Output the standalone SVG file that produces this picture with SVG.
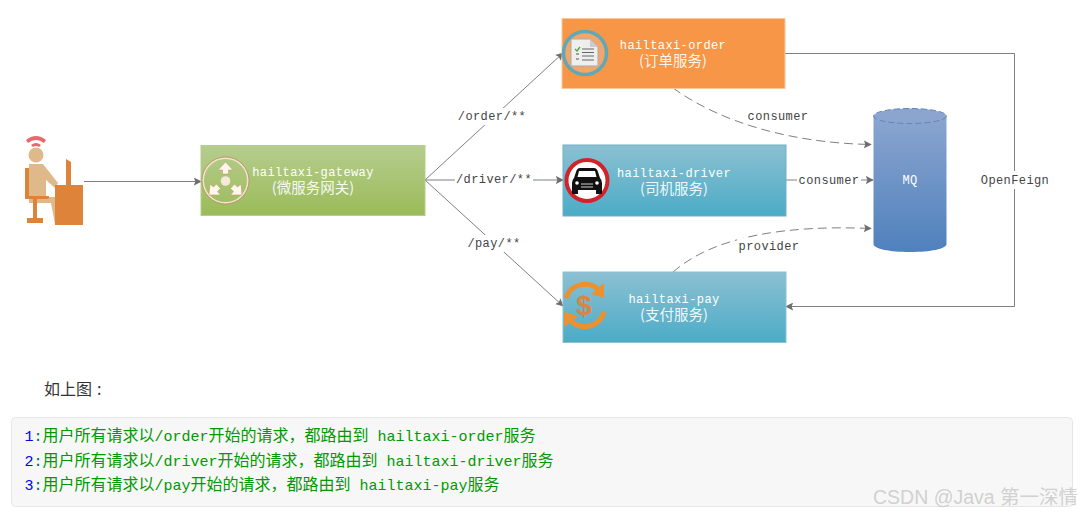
<svg xmlns="http://www.w3.org/2000/svg" width="1082" height="515" viewBox="0 0 1082 515">
<style>
.w{fill:#fff;text-anchor:middle;font-family:"Liberation Mono","Noto Sans CJK SC",monospace;font-size:12px;letter-spacing:.4px}
.w2{fill:#fff;fill-opacity:.92;text-anchor:middle;font-family:"Noto Sans CJK SC",sans-serif;font-size:14.5px}
.l{fill:#444;text-anchor:middle;font-family:"Liberation Mono","Noto Sans CJK SC",monospace;font-size:12px;letter-spacing:.4px}
.c{fill:none;stroke:#808080;stroke-width:1}
.d{stroke-dasharray:9 5}
.code{font-family:"Liberation Mono","Noto Sans CJK SC",monospace;font-size:15px;fill:#090}
.z{font-family:"Noto Sans CJK SC",sans-serif;font-size:16px}
.num{fill:#00f}
.col{fill:#066}
.ic{fill:#ec9130}
.p{fill:#e0b98a}
.o{fill:#dd843a}
.r{fill:#e8696b}
.ga{fill:#fff6ec;stroke:#c89a6c;stroke-width:.6}
</style>
<defs>
<marker id="a" viewBox="0 0 10 10" refX="9" refY="5" markerWidth="8" markerHeight="8" markerUnits="userSpaceOnUse" orient="auto"><path d="M0 0L10 5L0 10L2 5Z" fill="#6e6e6e"/></marker>
<linearGradient id="gg" x1="0" y1="0" x2="0" y2="1"><stop offset="0" stop-color="#b5cd8e"/><stop offset="1" stop-color="#9bbb59"/></linearGradient>
<linearGradient id="gb" x1="0" y1="0" x2="0" y2="1"><stop offset="0" stop-color="#8cc0d2"/><stop offset="1" stop-color="#4bacc6"/></linearGradient>
<linearGradient id="gm" x1="0" y1="0" x2="0" y2="1"><stop offset="0" stop-color="#8ba5cf"/><stop offset="1" stop-color="#4f81bd"/></linearGradient>
</defs>
<rect width="1082" height="515" fill="#fff"/>
<g id="connectors">
<path class="c" d="M84 181.500H201" marker-end="url(#a)"/>
<path class="c" d="M425 180L563 53" marker-end="url(#a)"/>
<path class="c" d="M425 180H563" marker-end="url(#a)"/>
<path class="c" d="M425 180L563 306" marker-end="url(#a)"/>
<path class="c" d="M785 53.500H1014.500V306.500H786" marker-end="url(#a)"/>
<path class="c d" d="M673 88C720 122 790 143 871 144.500" marker-end="url(#a)"/>
<path class="c" d="M786 180H873" marker-end="url(#a)"/>
<path class="c d" d="M673 272C715 235 790 225 871 228.500" marker-end="url(#a)"/>
</g>
<g id="edge-labels">
<rect x="456" y="108" width="72" height="17" fill="#fff"/><text class="l" x="492" y="120">/order/**</text>
<rect x="455" y="171" width="78" height="17" fill="#fff"/><text class="l" x="494" y="183">/driver/**</text>
<rect x="465" y="235" width="58" height="17" fill="#fff"/><text class="l" x="494" y="247">/pay/**</text>
<rect x="746" y="108" width="64" height="16" fill="#fff"/><text class="l" x="778" y="120">consumer</text>
<rect x="797" y="172" width="64" height="16" fill="#fff"/><text class="l" x="829" y="184">consumer</text>
<rect x="737" y="238" width="64" height="16" fill="#fff"/><text class="l" x="769" y="250">provider</text>
<rect x="979" y="171" width="72" height="18" fill="#fff"/><text class="l" x="1015" y="184">OpenFeign</text>
</g>
<g id="user">
<path class="r" d="M26 140Q36 132 46 140L44 143Q36 137 28 143Z"/>
<path class="r" d="M31 145Q36 141 41 145L39 147Q36 145 33 147Z"/>
<circle class="p" cx="36" cy="155" r="7.500"/>
<path class="p" d="M29 164H43L58 183L55 188L46 180V197H59V224H55L51 203H29Z"/>
<path class="o" d="M25 168H29V196H49V198Q49 199 47 199H25Z"/>
<path class="o" d="M33 199H37V218H43V223H27V218H33Z"/>
<path class="o" d="M66 159L71 162V187H66Z"/>
<rect class="o" x="55" y="185" width="28" height="40"/>
</g>
<g id="gateway">
<rect x="201" y="145.500" width="224" height="70" fill="url(#gg)" stroke="#b5cd8e"/>
<circle cx="225.500" cy="180.500" r="22.500" fill="none" stroke="#f3e2cf" stroke-width="2"/>
<circle cx="225.500" cy="180.500" r="23.500" fill="none" stroke="#b07f4e" stroke-width=".7"/>
<circle cx="225.500" cy="181" r="4.800" fill="#f7e8d8"/>
<path class="ga" d="M225.500 162L233 170H228.500V174H222.500V170H218Z"/>
<path class="ga" d="M209 195L210 184L213.500 187L216.500 184L220.500 188.500L217.500 191.500L220.500 195Z"/>
<path class="ga" d="M242 195L241 184L237.500 187L234.500 184L230.500 188.500L233.500 191.500L230.500 195Z"/>
<text class="w" x="313" y="176">hailtaxi-gateway</text>
<text class="w2" x="313" y="193">(微服务网关)</text>
</g>
<g id="order">
<rect x="562" y="18.500" width="223" height="70" fill="#f79646" stroke="#f9c79d"/>
<circle cx="585" cy="53" r="21.500" fill="#f3a66a" stroke="#60a8b8" stroke-width="3.500"/>
<path d="M571 39H590L598 47V66H571Z" fill="#eee" stroke="#aaa"/>
<path d="M590 39L598 47H590Z" fill="#ccc"/>
<path d="M582 49H594M582 52.500H594M582 56H594M582 60H594" stroke="#666"/>
<path d="M575 49L577 51L580 47" stroke="#4a4" fill="none" stroke-width="1.300"/>
<path d="M576 54H579M576 59H579" stroke="#888" stroke-width="1.500"/>
<text class="w" x="673" y="49">hailtaxi-order</text>
<text class="w2" x="673" y="66">(订单服务)</text>
</g>
<g id="driver">
<rect x="563" y="145" width="223" height="71" fill="url(#gb)" stroke="#6fb0c6"/>
<circle cx="587" cy="180.500" r="20.500" fill="#fff" stroke="#d2232a" stroke-width="4"/>
<path d="M576 172Q577 168 580 168H594Q597 168 598 172L600 178Q602 180 602 183V194H596V190H578V194H572V183Q572 180 574 178Z" fill="#111"/>
<path d="M579 171H595L596.500 177H577.500Z" fill="#fff"/>
<circle cx="577" cy="183" r="1.800" fill="#fff"/><circle cx="597" cy="183" r="1.800" fill="#fff"/>
<path d="M581 184H593M581 187H593" stroke="#fff" stroke-width=".8"/>
<text class="w" x="674" y="177">hailtaxi-driver</text>
<text class="w2" x="674" y="194">(司机服务)</text>
</g>
<g id="pay">
<rect x="563" y="272" width="223" height="70.500" fill="url(#gb)" stroke="#8cc0d2"/>
<path d="M566 298A20 20 0 0 1 600 291" fill="none" stroke="#ec9130" stroke-width="5"/>
<path class="ic" d="M604 283L604 298L591 294Z"/>
<path d="M604 312A20 20 0 0 1 570 320" fill="none" stroke="#ec9130" stroke-width="5"/>
<path class="ic" d="M564 327L564 312L578 316Z"/>
<text x="584" y="315" text-anchor="middle" font-family="Liberation Sans,sans-serif" font-size="28" font-weight="bold" fill="#d98545">$</text>
<text class="w" x="674" y="303">hailtaxi-pay</text>
<text class="w2" x="674" y="320">(支付服务)</text>
</g>
<g id="mq">
<path d="M873.500 116V244C873.500 249 890 252 910 252S946.500 249 946.500 244V116Z" fill="url(#gm)"/>
<ellipse cx="910" cy="116" rx="36.500" ry="7.500" fill="#8ba5cf" stroke="#5f87bd" stroke-dasharray="6 3"/>
<text class="w" x="910" y="184">MQ</text>
</g>
<g id="page-text">
<text x="44" y="395" font-family="Noto Sans CJK SC,sans-serif" font-size="16" fill="#333">如上图<tspan dx="5">:</tspan></text>
<rect x="11.500" y="417.500" width="1061" height="89" rx="4" fill="#f7f7f7" stroke="#e6e6e6"/>
<text class="code" x="24.500" y="441"><tspan class="num">1</tspan><tspan class="col">:</tspan><tspan class="z">用户所有请求以</tspan>/order<tspan class="z">开始的请求，都路由到</tspan> hailtaxi-order<tspan class="z">服务</tspan></text>
<text class="code" x="24.500" y="466"><tspan class="num">2</tspan><tspan class="col">:</tspan><tspan class="z">用户所有请求以</tspan>/driver<tspan class="z">开始的请求，都路由到</tspan> hailtaxi-driver<tspan class="z">服务</tspan></text>
<text class="code" x="24.500" y="490"><tspan class="num">3</tspan><tspan class="col">:</tspan><tspan class="z">用户所有请求以</tspan>/pay<tspan class="z">开始的请求，都路由到</tspan> hailtaxi-pay<tspan class="z">服务</tspan></text>
<text x="873" y="504" font-family="Liberation Sans,Noto Sans CJK SC,sans-serif" font-size="19.500" fill="#ccc" fill-opacity=".9">CSDN @Java 第一深情</text>
</g>
</svg>
